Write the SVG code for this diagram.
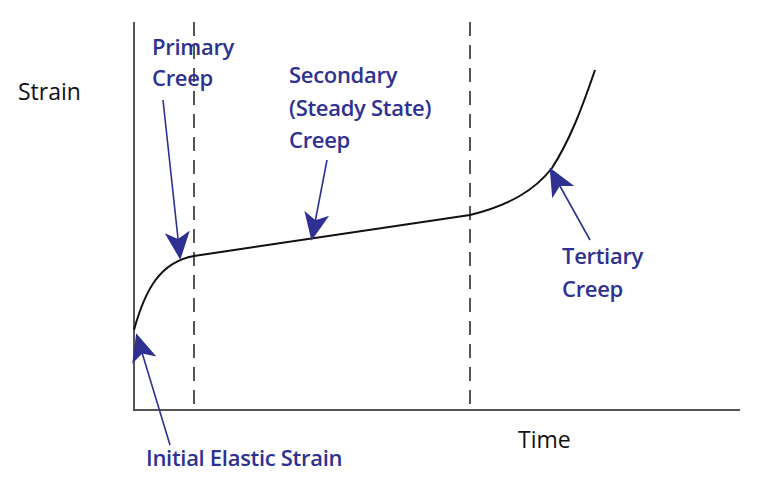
<svg xmlns="http://www.w3.org/2000/svg" width="781" height="478" viewBox="0 0 781 478">
<style>
.lbl{font-family:"Open Sans","Liberation Sans",sans-serif;font-size:22px;font-weight:600;fill:#2e3192;letter-spacing:-0.3px}
.ax{font-family:"Open Sans","Liberation Sans",sans-serif;font-size:23px;fill:#111}
.arr{stroke:#2e3192;stroke-width:1.6;fill:none;marker-end:url(#ah)}
.dash{stroke:#555;stroke-width:2;stroke-dasharray:14,9}
</style>
<defs><marker id="ah" viewBox="0 0 20 20" refX="18" refY="10" markerWidth="28" markerHeight="28" markerUnits="userSpaceOnUse" orient="auto"><path d="M0,1 L20,10 L0,19 L5,10 Z" fill="#2e3192"/></marker></defs>
<rect width="781" height="478" fill="#fff"/>
<g id="axes">
<line x1="134" y1="22" x2="134" y2="411" stroke="#555" stroke-width="2"/>
<line x1="133" y1="410" x2="740" y2="410" stroke="#555" stroke-width="2"/>
<line class="dash" x1="194" y1="22" x2="194" y2="410"/>
<line class="dash" x1="470" y1="22" x2="470" y2="410"/>
<text class="ax" x="18" y="100">Strain</text>
<text class="ax" x="518" y="448">Time</text>
</g>
<g id="curve"><path d="M134,330 C145,290 160,262 194,256 L470,215 C510,205 535,190 552,168 C570,140 582,108 595,70" stroke="#111" stroke-width="2" fill="none"/></g>
<g id="connectors">
<line class="arr" x1="163" y1="100" x2="180" y2="257"/>
<line class="arr" x1="327" y1="160" x2="312" y2="238"/>
<line class="arr" x1="590" y1="240" x2="551" y2="170"/>
<line class="arr" x1="170" y1="445" x2="137" y2="336"/>
</g>
<g id="primary"><text class="lbl" x="152" y="55">Primary</text><text class="lbl" x="152" y="86">Creep</text></g>
<g id="secondary"><text class="lbl" x="289" y="83">Secondary</text><text class="lbl" x="289" y="116">(Steady State)</text><text class="lbl" x="289" y="148">Creep</text></g>
<g id="tertiary"><text class="lbl" x="562" y="264">Tertiary</text><text class="lbl" x="562" y="297">Creep</text></g>
<g id="initial"><text class="lbl" x="146" y="466">Initial Elastic Strain</text></g>
</svg>
